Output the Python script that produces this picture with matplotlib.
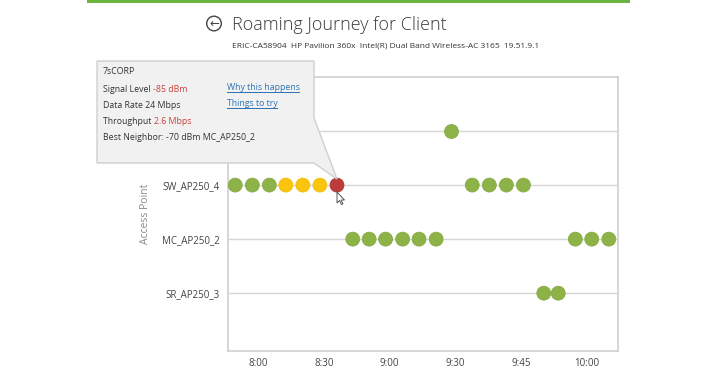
import matplotlib
matplotlib.use("Agg")
import matplotlib.pyplot as plt
from matplotlib.patches import Polygon, Rectangle, Circle
from matplotlib.transforms import IdentityTransform

plt.rcParams['font.family'] = ['Open Sans', 'DejaVu Sans']

# ---- data ----
ap_labels = ["SR_AP250_3", "MC_AP250_2", "SW_AP250_4", "", ""]
time_labels = ["8:00", "8:30", "9:00", "9:30", "9:45", "10:00"]

sw_x = [-0.35, -0.09, 0.17, 0.42, 0.68, 0.94, 1.20, 3.26, 3.52, 3.78, 4.04]
sw_status = ["good", "good", "good", "fair", "fair", "fair", "poor",
             "good", "good", "good", "good"]
mc_x = [1.44, 1.69, 1.94, 2.20, 2.45, 2.71, 4.83, 5.08, 5.34]
mc_status = ["good"] * 9
sr_x = [4.35, 4.57]
sr_status = ["good", "good"]
hidden_x = [2.94]
hidden_status = ["good"]

status_colors = {"good": "#8db348", "fair": "#fbc50d", "poor": "#bd3b3b"}
status_edges = {"good": "#86ab44", "fair": "#f2bd0a", "poor": "#a83232"}

W, H = 717, 375
fig = plt.figure(figsize=(W / 100, H / 100), dpi=100)
fig.patch.set_facecolor("white")

ax = fig.add_axes([228 / W, 1 - 351 / H, (618 - 228) / W, (351 - 77) / H])
ax.set_xlim(-0.46, 5.48)
ax.set_ylim(-1.07, 4.0)

for y in range(4):
    ax.axhline(y, color="#d6d6d6", lw=1.0, zorder=1)

rows = [(sr_x, sr_status, 0), (mc_x, mc_status, 1), (sw_x, sw_status, 2),
        (hidden_x, hidden_status, 3)]
for xs, sts, row in rows:
    ax.scatter(xs, [row] * len(xs), s=100,
               c=[status_colors[s] for s in sts],
               edgecolors=[status_edges[s] for s in sts], linewidths=0.6,
               zorder=3)

ax.set_xticks(range(len(time_labels)))
ax.set_xticklabels(time_labels, fontsize=7, color="#444444")
ax.set_yticks(range(len(ap_labels)))
ax.set_yticklabels(ap_labels, fontsize=7, color="#444444")
ax.tick_params(length=0, pad=6)
ax.tick_params(axis="x", pad=5)
for sp in ax.spines.values():
    sp.set_color("#cfcfcf")
    sp.set_linewidth(1.2)
ax.set_ylabel("Access Point", fontsize=7.5, color="#8a8a8a", labelpad=8)

# ---- header ----
idt = IdentityTransform()
fig.add_artist(Rectangle((87, H - 2.5), 543, 2.5, transform=idt,
                         facecolor="#6db33f", edgecolor="none"))
fig.add_artist(Circle((214, H - 23.5), 7.3, transform=idt, facecolor="none",
                      edgecolor="#444444", lw=1.0))
fig.text(214 / W, 1 - 23.5 / H, "←", fontsize=8.5, color="#444444",
         ha="center", va="center", family="DejaVu Sans")
fig.text(232 / W, 1 - 30 / H, "Roaming Journey for Client", fontsize=13.0,
         color="#3a3a3a", ha="left", va="baseline", fontweight="light")
fig.text(232 / W, 1 - 46 / H,
         "ERIC-CA58904  HP Pavilion 360x  Intel(R) Dual Band Wireless-AC 3165  19.51.9.1",
         fontsize=6.05, color="#333333", ha="left", va="center")

# ---- tooltip ----
tip = Polygon([(97, H - 61), (314, H - 61), (314, H - 118), (337, H - 179),
               (314, H - 163), (97, H - 163)], closed=True, transform=idt,
              facecolor="#f1f1f1", edgecolor="#cfcfcf", lw=1.0, zorder=10)
fig.add_artist(tip)

renderer = fig.canvas.get_renderer()
FS = 6.3
red = "#c8413c"
dark = "#333333"
tx = 103

def tline(y, parts):
    x = tx
    for txt, col in parts:
        t = fig.text(x / W, 1 - y / H, txt, fontsize=FS, color=col,
                     ha="left", va="center", zorder=11)
        x += t.get_window_extent(renderer=renderer).width

tline(72, [("7sCORP", dark)])
tline(89.5, [("Signal Level ", dark), ("-85 dBm", red)])
tline(105.5, [("Data Rate 24 Mbps", dark)])
tline(121.5, [("Throughput ", dark), ("2.6 Mbps", red)])
tline(137.5, [("Best Neighbor: -70 dBm MC_AP250_2", dark)])

link = "#2f73b5"
for y, s in [(87.5, "Why this happens"), (103.5, "Things to try")]:
    t = fig.text(227 / W, 1 - y / H, s, fontsize=FS, color=link, va="center", zorder=11)
    w = t.get_window_extent(renderer=renderer).width
    fig.add_artist(Rectangle((227, H - y - 5.5), w, 0.8, transform=idt,
                             facecolor=link, edgecolor="none", zorder=11))

# mouse cursor
cur = Polygon([(337, H - 192), (337, H - 203), (339.5, H - 200.5),
               (341.5, H - 204.5), (343, H - 203.8), (341, H - 200), (344.5, H - 200)],
              closed=True, transform=idt, facecolor="white", edgecolor="#555555",
              lw=0.7, zorder=12)
fig.add_artist(cur)

fig.savefig("out.png", dpi=100)
